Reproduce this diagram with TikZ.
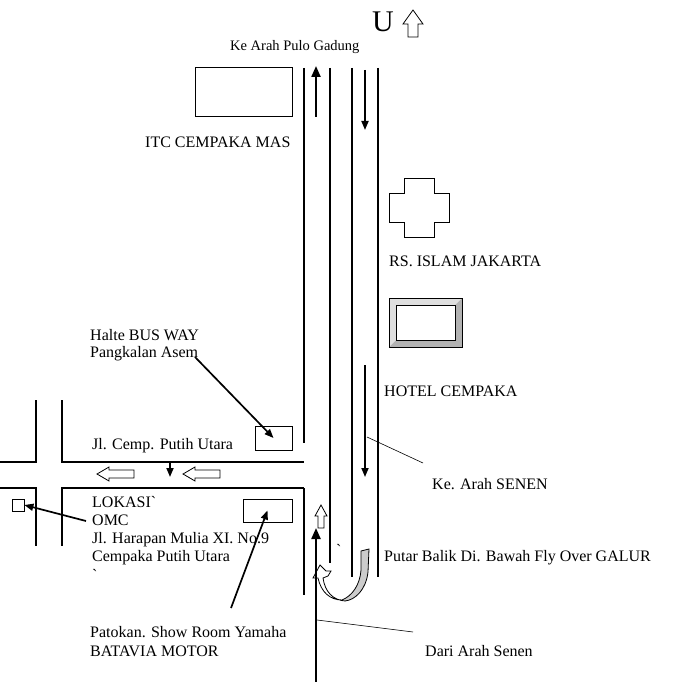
\documentclass[tikz,border=0pt]{standalone}
\usepackage{fontspec}
\setmainfont{Liberation Serif}
\usetikzlibrary{arrows.meta}
\begin{document}
\begin{tikzpicture}[x=1pt,y=-1pt,
  road/.style={line width=1.1pt},
  lbl/.style={anchor=west,inner sep=0pt,font=\fontsize{16}{18}\selectfont},
  arr/.style={line width=2.2pt,-{Triangle[length=11pt,width=9pt]}},
  harr/.style={line width=1.7pt,-{Triangle[length=9pt,width=7pt]}},
  holl/.style={draw,line width=0.8pt,fill=white}]
\useasboundingbox (0,0) rectangle (676,682);
% roads
\draw[road] (304,68) -- (304,443);
\draw[road] (304,488) -- (304,595);
\draw[road] (330,68) -- (330,563);
\draw[road] (352,68) -- (352,577);
\draw[road] (378,68) -- (378,577);
\draw[road] (62,400) -- (62,462) -- (304,462);
\draw[road] (36,400) -- (36,462) -- (0,462);
\draw[road] (0,488) -- (36,488) -- (36,546);
\draw[road] (304,488) -- (62,488) -- (62,546);
% boxes
\node[draw,line width=0.8pt,minimum width=97pt,minimum height=49pt,inner sep=0pt] (itc) at (243.5,91.5) {};
\node[draw,line width=0.8pt,minimum width=37pt,minimum height=24pt,inner sep=0pt] (halte) at (273.5,438) {};
\node[draw,line width=0.8pt,minimum width=49pt,minimum height=23pt,inner sep=0pt] (pat) at (267.5,510.5) {};
\node[draw,line width=0.8pt,minimum width=12pt,minimum height=12pt,inner sep=0pt] (lok) at (18,505) {};
% cross
\draw[line width=0.8pt] (404,178) -- (434,178) -- (434,193) -- (449,193) -- (449,222) -- (434,222) -- (434,237) -- (404,237) -- (404,222) -- (389,222) -- (389,193) -- (404,193) -- cycle;
% hotel bevel
\fill[gray!60] (389,298) rectangle (462,347);
\fill[gray!25] (389,298) -- (462,298) -- (455,305) -- (396,305) -- (396,340) -- (389,347) -- cycle;
\draw[line width=0.8pt] (389,298) rectangle (462,347);
\draw[line width=0.8pt,fill=white] (396,305) rectangle (455,340);
% texts
\node[lbl,font=\fontsize{30}{32}\selectfont] (u) at (372,22) {U};
\draw[holl] (408,37) -- (408,24) -- (403,24) -- (413,10) -- (423,24) -- (418,24) -- (418,37) -- cycle;
\node[lbl,font=\fontsize{14.5}{16}\selectfont] (pulo) at (230,47) {Ke Arah Pulo Gadung};
\node[lbl] (itct) at (145,142) {ITC CEMPAKA MAS};
\node[lbl] (rs) at (389,261) {RS. ISLAM JAKARTA};
\node[lbl] (hotel) at (384,391) {HOTEL CEMPAKA};
\node[lbl] (ht1) at (90,335) {Halte BUS WAY};
\node[lbl] (ht2) at (90,354) {Pangkalan Asem};
\node[lbl] (jl) at (92,446) {Jl. Cemp. Putih Utara};
\node[lbl] (l1) at (92,502) {LOKASI\textasciigrave};
\node[lbl] (l2) at (92,520) {OMC};
\node[lbl] (l3) at (92,540) {Jl. Harapan Mulia XI. No.9};
\node[lbl] (l4) at (92,558) {Cempaka Putih Utara};
\node[lbl] (l5) at (92,575) {\textasciigrave};
\node[lbl] (senen) at (432,484) {Ke. Arah SENEN};
\node[lbl] (putar) at (384,558) {Putar Balik Di. Bawah Fly Over GALUR};
\node[lbl] (p1) at (90,632) {Patokan. Show Room Yamaha};
\node[lbl] (p2) at (90,651) {BATAVIA MOTOR};
\node[lbl] (dari) at (425,651) {Dari Arah Senen};
\node[lbl] (tick) at (336,550) {\textasciigrave};
% traffic arrows
\coordinate (a1s) at (316,117); \coordinate (a1e) at (316,66);
\draw[arr] (a1s) -- (a1e);
\coordinate (a2s) at (365,70); \coordinate (a2e) at (365,130);
\draw[harr] (a2s) -- (a2e);
\coordinate (a3s) at (365,365); \coordinate (a3e) at (365,477);
\draw[harr] (a3s) -- (a3e);
\coordinate (a4s) at (316,682); \coordinate (a4e) at (316,528);
\draw[arr] (a4s) -- (a4e);
\coordinate (a5s) at (170,462); \coordinate (a5e) at (170,477);
\draw[harr] (a5s) -- (a5e);
% hollow arrows
\draw[holl] (318,528) -- (318,516) -- (315,516) -- (321,505) -- (327,516) -- (324,516) -- (324,528) -- cycle;
\draw[holl] (134,470) -- (109,470) -- (109,467) -- (97,474) -- (109,481) -- (109,478) -- (134,478) -- cycle;
\draw[holl] (220,470) -- (195,470) -- (195,467) -- (183,474) -- (195,481) -- (195,478) -- (220,478) -- cycle;
% u-turn
\fill[gray!40] (361,551) -- (369,549) -- (368,572) .. controls (366,590) and (355,600) .. (345,601) -- (342,600) .. controls (352,596) and (360,585) .. (361,570) -- cycle;
\draw[line width=0.8pt] (361,551) -- (369,549) -- (368,572) .. controls (366,590) and (355,600) .. (345,601)
  .. controls (333,600) and (325,592) .. (323,578) -- (328,576) -- (331,571) -- (326,571) -- (320,565) -- (313,578) -- (318,578)
  .. controls (321,592) and (330,600) .. (342,600) .. controls (352,596) and (360,585) .. (361,570) -- cycle;
% pointer arrows
\coordinate (hs) at (195,357);
\draw[harr] (hs) -- (halte.center);
\coordinate (ps) at (231,608);
\draw[harr] (ps) -- (pat.center);
\coordinate (ls) at (86,521);
\draw[harr] (ls) -- (lok.east);
% leader lines
\coordinate (k1) at (367,437); \coordinate (k2) at (423,463);
\draw[line width=0.6pt] (k1) -- (k2);
\coordinate (d1) at (317,620); \coordinate (d2) at (413,632);
\draw[line width=0.6pt] (d1) -- (d2);
\end{tikzpicture}
\end{document}
